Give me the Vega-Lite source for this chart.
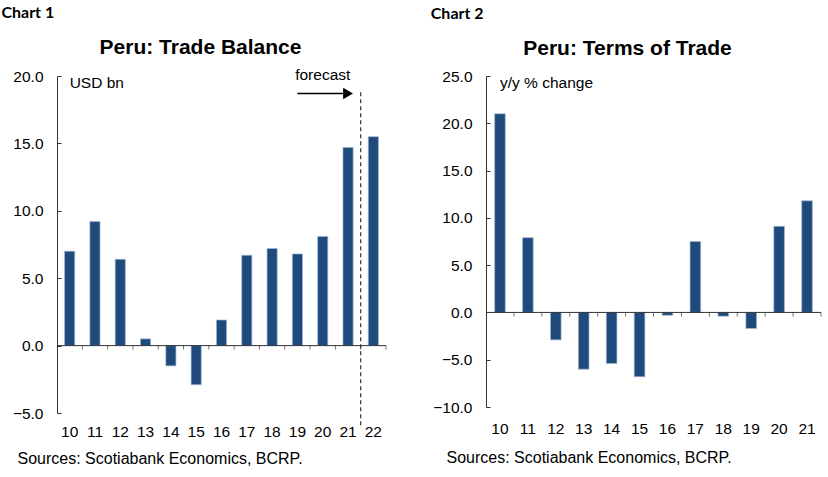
{
  "$schema": "https://vega.github.io/schema/vega-lite/v6.json",
  "padding": {"left": 1, "top": 5, "right": 5, "bottom": 5},
  "background": "white",
  "spacing": 43,
  "config": {
    "view": {"stroke": null},
    "font": "Liberation Sans",
    "axis": {
      "labelFont": "Liberation Sans",
      "labelFontSize": 15.5,
      "labelColor": "#000000",
      "domain": true,
      "domainColor": "#333333",
      "domainWidth": 1,
      "tickColor": "#333333",
      "titleFont": "Liberation Sans",
      "titleFontSize": 16,
      "titleFontWeight": "normal",
      "titleColor": "#000000"
    }
  },
  "datasets": {
    "trade": [
      {"year": "10", "value": 7.0},
      {"year": "11", "value": 9.2},
      {"year": "12", "value": 6.4},
      {"year": "13", "value": 0.5},
      {"year": "14", "value": -1.5},
      {"year": "15", "value": -2.9},
      {"year": "16", "value": 1.9},
      {"year": "17", "value": 6.7},
      {"year": "18", "value": 7.2},
      {"year": "19", "value": 6.8},
      {"year": "20", "value": 8.1},
      {"year": "21", "value": 14.7},
      {"year": "22", "value": 15.5}
    ],
    "tot": [
      {"year": "10", "value": 21.0},
      {"year": "11", "value": 7.9},
      {"year": "12", "value": -2.9},
      {"year": "13", "value": -6.0},
      {"year": "14", "value": -5.4},
      {"year": "15", "value": -6.8},
      {"year": "16", "value": -0.3},
      {"year": "17", "value": 7.5},
      {"year": "18", "value": -0.4},
      {"year": "19", "value": -1.7},
      {"year": "20", "value": 9.1},
      {"year": "21", "value": 11.8}
    ]
  },
  "hconcat": [
    {
      "title": {"text": "Chart 1", "anchor": "start", "font": "Lato", "fontSize": 16, "fontWeight": "bold", "color": "#000000", "dx": -11, "offset": 16},
      "vconcat": [
        {
          "title": {"text": "Peru: Trade Balance", "anchor": "middle", "frame": "group", "font": "Liberation Sans", "fontSize": 21, "fontWeight": "bold", "color": "#000000", "dx": -21, "offset": 10},
          "width": 329,
          "height": 337,
          "layer": [
            {
              "data": {"name": "trade"},
              "mark": {"type": "bar", "width": {"band": 0.4}, "fill": "#1f4a7c", "stroke": "#9fb4d0", "strokeWidth": 0.7},
              "encoding": {
                "x": {
                  "field": "year", "type": "ordinal", "sort": null,
                  "scale": {"paddingInner": 0, "paddingOuter": 0},
                  "axis": {"domain": false, "ticks": false, "labelAngle": 0, "labelPadding": 11,
                           "title": "Sources: Scotiabank Economics, BCRP.", "titleAnchor": "start", "titleAlign": "left", "titleX": -40, "titlePadding": 11}
                },
                "y": {
                  "field": "value", "type": "quantitative",
                  "scale": {"domain": [-5, 20], "nice": false, "zero": false},
                  "axis": {"values": [-5, 0, 5, 10, 15, 20], "format": ".1f", "grid": false, "domain": true, "tickSize": -4, "labelPadding": 18, "title": null}
                }
              }
            },
            {
              "data": {"values": [{"v": 0}]},
              "mark": {"type": "rule", "color": "#333333", "strokeWidth": 1},
              "encoding": {"y": {"field": "v", "type": "quantitative"}}
            },
            {
              "data": {"name": "trade"},
              "mark": {"type": "tick", "orient": "vertical", "color": "#333333", "size": 4, "thickness": 1, "yOffset": 2},
              "encoding": {
                "x": {"field": "year", "type": "ordinal", "sort": null, "bandPosition": 1},
                "y": {"datum": 0}
              }
            },
            {
              "data": {"values": [{"year": "22", "top": 18.8, "bottom": -5.9}]},
              "mark": {"type": "rule", "color": "#333333", "strokeWidth": 1.2, "strokeDash": [4, 3]},
              "encoding": {
                "x": {"field": "year", "type": "ordinal", "bandPosition": 0},
                "y": {"field": "top", "type": "quantitative"},
                "y2": {"field": "bottom"}
              }
            },
            {
              "data": {"values": [{"from": "19", "to": "21", "v": 18.7}]},
              "mark": {"type": "rule", "color": "#000000", "strokeWidth": 1.5},
              "encoding": {
                "x": {"field": "from", "type": "ordinal", "bandPosition": 0.5},
                "x2": {"field": "to"},
                "y": {"field": "v", "type": "quantitative"}
              }
            },
            {
              "data": {"values": [{"year": "21", "v": 18.7}]},
              "mark": {"type": "point", "shape": "triangle-right", "filled": true, "color": "#000000", "size": 130, "opacity": 1},
              "encoding": {
                "x": {"field": "year", "type": "ordinal"},
                "y": {"field": "v", "type": "quantitative"}
              }
            },
            {
              "data": {"values": [{"year": "20", "v": 20.05, "label": "forecast"}]},
              "mark": {"type": "text", "fontSize": 15.5, "baseline": "middle", "align": "center", "color": "#000000"},
              "encoding": {
                "x": {"field": "year", "type": "ordinal"},
                "y": {"field": "v", "type": "quantitative"},
                "text": {"field": "label"}
              }
            },
            {
              "data": {"values": [{"year": "10", "v": 19.5, "label": "USD bn"}]},
              "mark": {"type": "text", "fontSize": 15.5, "baseline": "middle", "align": "left", "color": "#000000"},
              "encoding": {
                "x": {"field": "year", "type": "ordinal"},
                "y": {"field": "v", "type": "quantitative"},
                "text": {"field": "label"}
              }
            }
          ]
        }
      ]
    },
    {
      "title": {"text": "Chart 2", "anchor": "start", "font": "Lato", "fontSize": 16, "fontWeight": "bold", "color": "#000000", "dx": -2, "offset": 16},
      "vconcat": [
        {
          "title": {"text": "Peru: Terms of Trade", "anchor": "middle", "frame": "group", "font": "Liberation Sans", "fontSize": 21, "fontWeight": "bold", "color": "#000000", "dx": -26, "offset": 10},
          "width": 335,
          "height": 331,
          "layer": [
            {
              "data": {"name": "tot"},
              "mark": {"type": "bar", "width": {"band": 0.38}, "fill": "#1f4a7c", "stroke": "#9fb4d0", "strokeWidth": 0.7},
              "encoding": {
                "x": {
                  "field": "year", "type": "ordinal", "sort": null,
                  "scale": {"paddingInner": 0, "paddingOuter": 0},
                  "axis": {"domain": false, "ticks": false, "labelAngle": 0, "labelPadding": 14,
                           "title": "Sources: Scotiabank Economics, BCRP.", "titleAnchor": "start", "titleAlign": "left", "titleX": -40, "titlePadding": 13}
                },
                "y": {
                  "field": "value", "type": "quantitative",
                  "scale": {"domain": [-10, 25], "nice": false, "zero": false},
                  "axis": {"values": [-10, -5, 0, 5, 10, 15, 20, 25], "format": ".1f", "grid": false, "domain": true, "tickSize": -4, "labelPadding": 18, "title": null}
                }
              }
            },
            {
              "data": {"values": [{"v": 0}]},
              "mark": {"type": "rule", "color": "#333333", "strokeWidth": 1},
              "encoding": {"y": {"field": "v", "type": "quantitative"}}
            },
            {
              "data": {"name": "tot"},
              "mark": {"type": "tick", "orient": "vertical", "color": "#333333", "size": 4, "thickness": 1, "yOffset": 2},
              "encoding": {
                "x": {"field": "year", "type": "ordinal", "sort": null, "bandPosition": 1},
                "y": {"datum": 0}
              }
            },
            {
              "data": {"values": [{"year": "10", "v": 24.3, "label": "y/y % change"}]},
              "mark": {"type": "text", "fontSize": 15.5, "baseline": "middle", "align": "left", "color": "#000000"},
              "encoding": {
                "x": {"field": "year", "type": "ordinal"},
                "y": {"field": "v", "type": "quantitative"},
                "text": {"field": "label"}
              }
            }
          ]
        }
      ]
    }
  ]
}
